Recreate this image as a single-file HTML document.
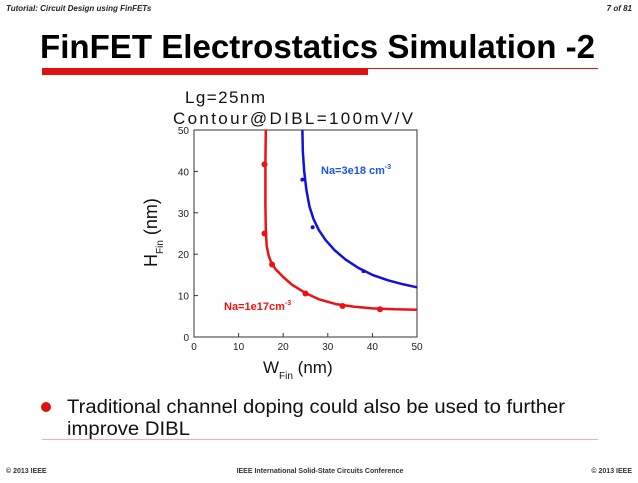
<!DOCTYPE html>
<html><head><meta charset="utf-8"><style>
html,body{margin:0;padding:0;background:#fff;}
body{width:638px;height:478px;overflow:hidden;position:relative;font-family:"Liberation Sans",sans-serif;}
svg text{font-family:"Liberation Sans",sans-serif;}
</style></head><body>
<svg id="slide" width="638" height="478" viewBox="0 0 638 478">
<text x="6" y="11" font-size="8" font-style="italic" font-weight="bold" fill="#222">Tutorial: Circuit Design using FinFETs</text>
<text x="632" y="11" font-size="8" font-style="italic" font-weight="bold" fill="#222" text-anchor="end">7 of 81</text>
<text x="40" y="58" font-size="33" font-weight="bold" fill="#000" textLength="555" lengthAdjust="spacingAndGlyphs">FinFET Electrostatics Simulation -2</text>
<rect x="42" y="68" width="326" height="7" fill="#e01010"/>
<line x1="368" y1="68.5" x2="598" y2="68.5" stroke="#e01010" stroke-width="1"/>
<text x="185" y="103" font-size="17" fill="#111" textLength="80" lengthAdjust="spacing">Lg=25nm</text>
<text x="173" y="124" font-size="17" fill="#111" textLength="240" lengthAdjust="spacing">Contour@DIBL=100mV/V</text>
<g id="chart"></g>
<circle cx="46" cy="407" r="5" fill="#e01010"/>
<text x="67" y="413" font-size="19" fill="#111" textLength="498" lengthAdjust="spacingAndGlyphs">Traditional channel doping could also be used to further</text>
<text x="67" y="435" font-size="19" fill="#111" textLength="123" lengthAdjust="spacingAndGlyphs">improve DIBL</text>
<line x1="42" y1="439.5" x2="598" y2="439.5" stroke="#f4b0b0" stroke-width="1"/>
<text x="6" y="473" font-size="7" font-weight="bold" fill="#333">© 2013 IEEE</text>
<text x="320" y="473" font-size="7" font-weight="bold" fill="#333" text-anchor="middle">IEEE International Solid-State Circuits Conference</text>
<text x="632" y="473" font-size="7" font-weight="bold" fill="#333" text-anchor="end">© 2013 IEEE</text>
</svg>
<script>
const xTicks=[0,10,20,30,40,50];
const yTicks=[0,10,20,30,40,50];
const redCurveX=[16.1,16.0,16.0,16.1,16.3,16.7,17.3,18.2,20,22,25,28,32,36,40,45,50];
const redCurveY=[50,42,32,26,22,19.8,18,16.5,14.5,12.6,10.6,9.1,7.9,7.3,6.9,6.7,6.6];
const blueCurveX=[24.3,24.4,24.7,25.2,25.9,26.8,28,29.5,31.5,34,37,40,43.5,47,50];
const blueCurveY=[50,45,40,35.5,31.5,28.5,25.8,23.4,21,18.7,16.6,15,13.7,12.7,12];
const redDotsX=[15.8,15.8,17.5,25,33.3,41.7];
const redDotsY=[41.7,25,17.5,10.5,7.5,6.7];
const blueDotsX=[24.3,26.6,38];
const blueDotsY=[38,26.5,15.9];
const NS='http://www.w3.org/2000/svg';
const X0=194,X1=417,Y0=337,Y1=130;
const sx=v=>X0+(v-0)/50*(X1-X0);
const sy=v=>Y0-(v-0)/50*(Y0-Y1);
const g=document.getElementById('chart');
function mk(t,a){const e=document.createElementNS(NS,t);for(const k in a)e.setAttribute(k,a[k]);g.appendChild(e);return e;}
let e=mk('rect',{x:X0,y:Y1,width:X1-X0,height:Y0-Y1,fill:'none',stroke:'#333','stroke-width':1});


xTicks.forEach(t=>{
 let l=mk('line',{x1:sx(t),x2:sx(t),y1:Y0,y2:Y0-4,stroke:'#333'});
 
 
 let tx=mk('text',{x:sx(t),y:Y0+13,'font-size':10,'text-anchor':'middle',fill:'#222'});tx.textContent=t;
 
 
});
yTicks.forEach(t=>{
 let l=mk('line',{x1:X0,x2:X0+4,y1:sy(t),y2:sy(t),stroke:'#333'});
 
 
 let tx=mk('text',{x:X0-5,y:sy(t)+4,'font-size':10,'text-anchor':'end',fill:'#222'});tx.textContent=t;
 
 
});
function curve(xs,ys,c,name){
 const d=xs.map((x,i)=>(i?'L':'M')+sx(x).toFixed(1)+','+sy(ys[i]).toFixed(1)).join(' ');
 let p=mk('path',{d:d,fill:'none',stroke:c,'stroke-width':2.5,'stroke-linejoin':'round'});
 
 
}
curve(redCurveX,redCurveY,'#ee1111','red-fit-curve');
curve(blueCurveX,blueCurveY,'#1111dd','blue-fit-curve');
redDotsX.forEach((x,i)=>{let c=mk('circle',{cx:sx(x),cy:sy(redDotsY[i]),r:3,fill:'#ee1111'});
 
 });
blueDotsX.forEach((x,i)=>{let c=mk('circle',{cx:sx(x),cy:sy(blueDotsY[i]),r:2,fill:'#1111dd'});
 
 });
function lab(x,y,txt,sup,c,name){let t=mk('text',{x:x,y:y,'font-size':11,'font-weight':'bold',fill:c});
 t.innerHTML=txt+'<tspan font-size="7" dy="-5">'+sup+'</tspan>';
 
 }
lab(321,174,'Na=3e18 cm','-3','#1a55ee','blue-series-label');
lab(224,310,'Na=1e17cm','-3','#ee1111','red-series-label');
let xt=mk('text',{x:263,y:373,'font-size':17,fill:'#111'});
xt.innerHTML='W<tspan font-size="10" dy="6">Fin</tspan><tspan dy="-6"> (nm)</tspan>';


let yt=mk('text',{x:0,y:0,'font-size':18,fill:'#111',transform:'translate(157,267) rotate(-90)'});
yt.innerHTML='H<tspan font-size="10" dy="6">Fin</tspan><tspan dy="-6"> (nm)</tspan>';


</script>
</body></html>
